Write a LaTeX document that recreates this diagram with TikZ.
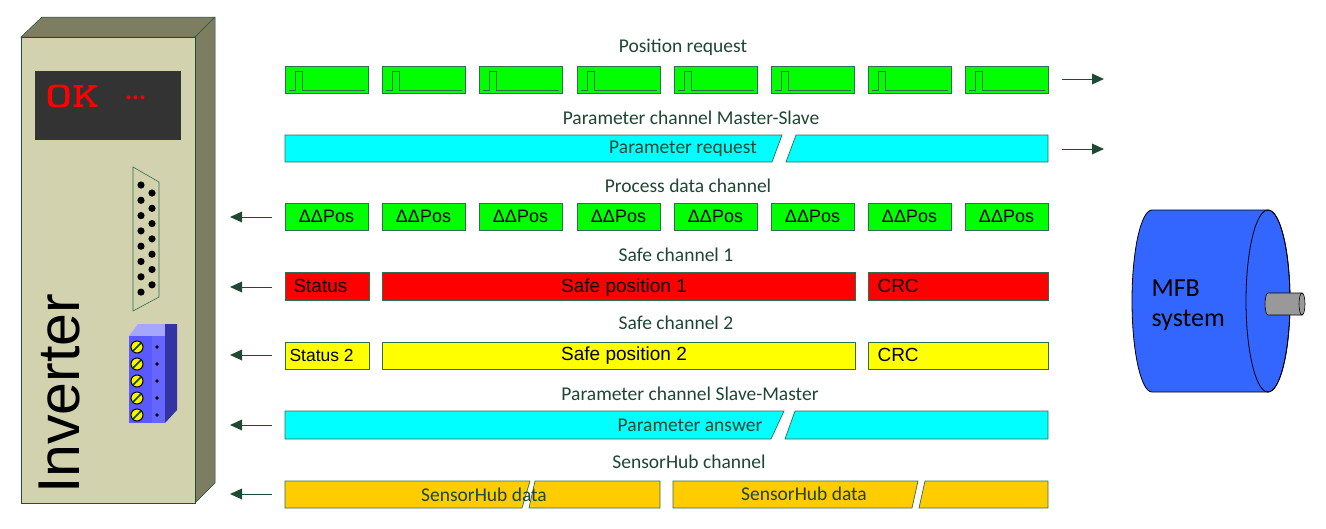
\documentclass[tikz,border=0pt]{standalone}
\usepackage{fontspec}
\usetikzlibrary{arrows.meta}
\setmainfont{Carlito}
\newfontfamily\arial{Liberation Sans}
\begin{document}
\begin{tikzpicture}[x=1pt,y=-1pt,
  title/.style={text=tc,font=\fontsize{19.5}{21}\selectfont},
  band/.style={draw=bd,line width=0.7pt},
  lbl/.style={font=\arial\fontsize{19}{21}\selectfont,text=black},
  arr/.style={draw=ac,line width=1pt}]
\definecolor{tc}{HTML}{1E4632}
\definecolor{bd}{HTML}{2F6F4F}
\definecolor{ac}{HTML}{1E4A32}
\definecolor{gr}{HTML}{00FF00}
\definecolor{cy}{HTML}{00FFFF}
\definecolor{ye}{HTML}{FFFF00}
\definecolor{og}{HTML}{FFCC00}
\definecolor{fr}{HTML}{D2D2AE}
\definecolor{sd}{HTML}{7D7D62}
\definecolor{mb}{HTML}{3366FF}
\useasboundingbox (0,0) rectangle (1326,528);
% inverter
\fill[sd,draw=bd!70!black,line width=0.5pt] (21,37)--(42,17)--(215,17)--(215,483)--(195,503)--(195,37)--cycle;
\draw[bd!70!black,line width=0.5pt] (195,37)--(215,17);
\fill[fr,draw=bd!70!black,line width=0.6pt] (21,37) rectangle (195,503);
\fill[black!80] (35,71) rectangle (181,140);
\node[anchor=west,text=red,font=\ttfamily\bfseries\fontsize{36}{36}\selectfont,inner sep=0pt,xscale=1.45] (ok) at (45,96) {OK};
\node[anchor=west,text=red,font=\bfseries\fontsize{26}{26}\selectfont,inner sep=0pt] (dots) at (125,98) {...};
\node[rotate=90,anchor=south west,font=\arial\fontsize{59}{59}\selectfont,inner sep=0pt] (inv) at (80,494) {Inverter};
% D-sub
\draw[fill=fr,draw=bd,line width=0.6pt] (133,167)--(159,182)--(159,297)--(133,311)--cycle;
\foreach \i in {0,...,7}{\fill (141,185+15.3*\i) circle (3.6pt);}
\foreach \i in {0,...,6}{\fill (152,193+15.3*\i) circle (3.6pt);}
% terminal block
\fill[blue!35!white] (129,336)--(138,324)--(177,324)--(165,336)--cycle;
\fill[blue!65!white] (129,336) rectangle (152,423);
\fill[blue!60!white] (152,336) rectangle (165,423);
\fill[blue!55!black!80!white] (165,324)--(177,324)--(177,410)--(165,423)--cycle;
\foreach \i in {0,...,4}{
  \filldraw[fill=yellow,draw=black,line width=1pt] (137,347+17*\i) circle (6pt);
  \draw[green!30!black,line width=1.6pt] (133,351+17*\i)--(141,343+17*\i);
  \fill (157,347+17*\i) circle (1.8pt);}
% row 1
\node[title] (t1) at (683,47) {Position request};
\foreach \x [count=\k] in {285,382,479,577,674,771,868,965}{
  \draw[band,fill=gr] (\x,66) rectangle +(83,27);
  \draw[bd,line width=0.7pt] (\x+4,90)--(\x+10,90)--(\x+10,71)--(\x+17,71)--(\x+17,90)--(\x+80,90);}
\coordinate (r1a) at (1062,79); \coordinate (r1b) at (1104,79);
\draw[arr] (r1a)--(1094,79); \fill[ac] (1104,79)--(1092,73.5)--(1092,84.5)--cycle;
% row 2
\node[title] (t2) at (691,118) {Parameter channel Master-Slave};
\draw[band,fill=cy] (285,135)--(782,135)--(772,162)--(285,162)--cycle;
\draw[band,fill=cy] (796,135)--(1048,135)--(1048,162)--(786,162)--cycle;
\node[title] (pr) at (683,149) {Parameter request};
\coordinate (r2a) at (1062,149); \coordinate (r2b) at (1104,149);
\draw[arr] (r2a)--(1094,149); \fill[ac] (1104,149)--(1092,143.5)--(1092,154.5)--cycle;
% row 3
\node[title] (t3) at (688,186) {Process data channel};
\foreach \x in {285,382,479,577,674,771,868,965}{
  \draw[band,fill=gr] (\x,203) rectangle +(83,27);
  \node[lbl,font=\arial\fontsize{18}{20}\selectfont] at (\x+41.5,216.5) {ΔΔPos};}
% row 4
\node[title] (t4) at (676,255) {Safe channel 1};
\draw[band,fill=red] (285,272) rectangle (369,300);
\draw[band,fill=red] (382,272) rectangle (855,300);
\draw[band,fill=red] (868,272) rectangle (1048,300);
\node[lbl,anchor=west] (st1) at (290,286) {Status};
\node[lbl] (sp1) at (624,288) {Safe position 1};
\node[lbl,anchor=west] (crc1) at (874,286) {CRC};
% row 5
\node[title] (t5) at (676,323) {Safe channel 2};
\draw[band,fill=ye] (285,342) rectangle (369,369);
\draw[band,fill=ye] (382,342) rectangle (855,369);
\draw[band,fill=ye] (868,342) rectangle (1048,369);
\node[lbl,anchor=west,font=\arial\fontsize{17.5}{19}\selectfont] (st2) at (286,355) {Status 2};
\node[lbl] (sp2) at (624,356) {Safe position 2};
\node[lbl,anchor=west] (crc2) at (874,355) {CRC};
% row 6
\node[title] (t6) at (690,394) {Parameter channel Slave-Master};
\draw[band,fill=cy] (285,411)--(784,411)--(771,439)--(285,439)--cycle;
\draw[band,fill=cy] (795,411)--(1048,411)--(1048,439)--(785,439)--cycle;
\node[title] (pa) at (690,425) {Parameter answer};
% row 7
\node[title] (t7) at (689,462) {SensorHub channel};
\draw[band,fill=og] (285,481)--(530,481)--(522,508)--(285,508)--cycle;
\draw[band,fill=og] (535,481)--(660,481)--(660,508)--(529,508)--cycle;
\draw[band,fill=og] (673,481)--(918,481)--(912,508)--(673,508)--cycle;
\draw[band,fill=og] (925,481)--(1048,481)--(1048,508)--(919,508)--cycle;
\node[title] (sh1) at (484,495) {SensorHub data};
\node[title] (sh2) at (804,494) {SensorHub data};
% left arrows
\foreach \y in {217,287,355,425,494}{\draw[arr] (272,\y)--(240,\y); \fill[ac] (230,\y)--(242,\y-5.5)--(242,\y+5.5)--cycle;}
% motor
\draw[fill=mb,line width=0.8pt] (1152,210)--(1268,210) arc[start angle=-90,end angle=90,x radius=22,y radius=91]
  --(1152,392) arc[start angle=90,end angle=270,x radius=20,y radius=91]--cycle;
\draw[line width=0.8pt] (1268,301) ellipse[x radius=22,y radius=91];
\draw[fill=black!40,line width=0.6pt] (1268,293)--(1302,293)--(1302,315)--(1268,315) arc[start angle=90,end angle=270,x radius=3,y radius=11]--cycle;
\draw[fill=black!40,line width=0.6pt] (1302,304) ellipse[x radius=3,y radius=11];
\node[anchor=west,align=left,font=\fontsize{26}{30}\selectfont] (mfb) at (1148,305) {MFB\\system};
\end{tikzpicture}
\end{document}
